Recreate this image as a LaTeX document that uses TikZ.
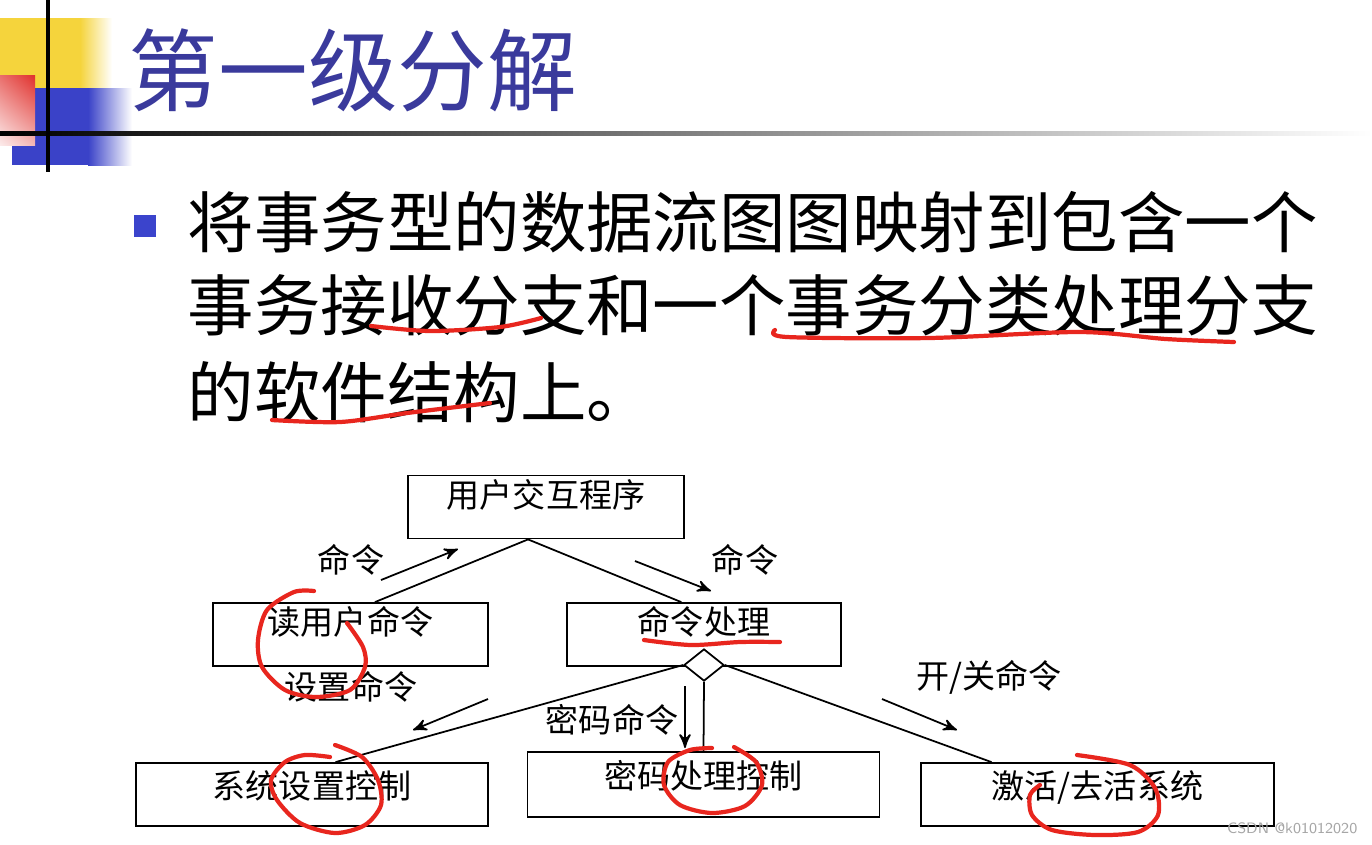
\documentclass[tikz,border=0pt]{standalone}
\usepackage{fontspec}
\newfontfamily\cjk{Noto Sans CJK SC}
\usetikzlibrary{arrows, shapes.geometric, shadings}
\definecolor{titleblue}{HTML}{3A3A9C}
\definecolor{bulletblue}{HTML}{3B44CC}
\definecolor{deckyellow}{HTML}{F5D43C}
\definecolor{deckblue}{HTML}{3A42C8}
\definecolor{deckred}{HTML}{E0302C}
\definecolor{penred}{HTML}{E8261E}

\begin{document}
\begin{tikzpicture}[x = 0.01cm, y = -0.01cm, >=stealth',
    box/.style = {draw, line width = 0.5pt, font = \cjk\fontsize{9.4}{11}\selectfont, text height = 0.22cm, text depth = 0.22cm, minimum height = 0.63cm, inner sep = 0pt},
    lbl/.style = {font = \cjk\fontsize{9.4}{11}\selectfont, inner sep = 0pt},
    flow/.style = {line width = 0.5pt},
    bodytext/.style = {font = \cjk\fontsize{18.9}{22}\selectfont, anchor = west, inner sep = 0pt},
    redmark/.style = {draw = penred, line width = 1.2pt, line cap = round, line join = round}]
      \useasboundingbox[fill = white] (0,0) rectangle (1372,844);

      \fill[deckyellow] (0,18) rectangle (80,110);
      \shade[left color = deckyellow, right color = white] (80,18) rectangle (112,110);
      \fill[deckblue] (12,88) rectangle (88,165);
      \shade[left color = deckblue, right color = white] (88,88) rectangle (132,165);
      \shade[upper right = deckred, upper left = deckred!70, lower left = deckred!10, lower right = deckred!35] (0,75) rectangle (35,145);
      \shade[left color = black, middle color = gray!80, right color = white] (0,131) rectangle (1372,135);
      \fill[black] (46,0) rectangle (50,172);

      \node[font = \cjk\fontsize{25.5}{30}\selectfont, text = titleblue, anchor = west, inner sep = 0pt] (title) at (128,70) {第一级分解};
      \fill[bulletblue] (134,215) rectangle (156,237);
      \node[bodytext] (l1) at (187,222) {将事务型的数据流图图映射到包含一个};
      \node[bodytext] (l2) at (187,305) {事务接收分支和一个事务分类处理分支};
      \node[bodytext] (l3) at (187,392) {的软件结构上。};

      \node[box, minimum width = 2.76cm] (user) at (546,507) {用户交互程序};
      \node[box, minimum width = 2.75cm] (read) at (350.5,634.5) {读用户命令};
      \node[box, minimum width = 2.74cm] (proc) at (704,634.5) {命令处理};
      \node[diamond, draw, fill = white, line width = 0.5pt, minimum width = 0.4cm, minimum height = 0.32cm, inner sep = 0pt] (fork) at (704,665) {};
      \node[box, text depth = 0.15cm, minimum width = 3.52cm] (setc) at (312,794.5) {系统设置控制};
      \node[box, text depth = 0.15cm, minimum width = 3.52cm, minimum height = 0.65cm] (pwd) at (703.5,784.5) {密码处理控制};
      \node[box, text depth = 0.15cm, minimum width = 3.53cm] (act) at (1097.5,794.5) {激活/去活系统};

      \path[flow] (user.241) edge (read.53)
                  (user.241) edge (proc.125)
                  (fork.west) edge (setc.54)
                  (fork.south) edge (pwd.north)
                  (fork.east) edge (act.163);

      \node[lbl] (cmd1) at (351,560) {命令};
      \node[lbl] (cmd2) at (745,560) {命令};
      \node[lbl] (cmd3) at (351,687) {设置命令};
      \node[lbl] (cmd4) at (612,720) {密码命令};
      \node[lbl] (cmd5) at (989,677) {开/关命令};

      \coordinate (a1) at (381,580); \coordinate (b1) at (458,549);
      \coordinate (a2) at (635,561); \coordinate (b2) at (711,591);
      \coordinate (a3) at (488,699); \coordinate (b3) at (413,730);
      \coordinate (a4) at (685,686); \coordinate (b4) at (685,748);
      \coordinate (a5) at (882,699); \coordinate (b5) at (957,730);
      \path[->, flow] (a1) edge (b1) (a2) edge (b2)
                      (a3) edge (b3) (a4) edge (b4)
                      (a5) edge (b5);

      \node[font = \sffamily\fontsize{4.3}{5}\selectfont, text = gray!70, anchor = east, inner sep = 0pt] (mark) at (1358,828) {CSDN @k01012020};

      \draw[redmark] plot[smooth] coordinates {(371,326) (430,331) (500,327) (541,318)};
      \draw[redmark] plot[smooth] coordinates {(775,330) (787,337) (929,338) (1079,332) (1166,339) (1234,342)};
      \draw[redmark] plot[smooth] coordinates {(272,420) (340,422) (407,413) (490,403)};
      \draw[redmark] plot[smooth] coordinates {(314,591) (294,592) (267,610) (258,640) (262,667) (285,690) (316,697) (350,690) (365,667) (363,647) (347,623)};
      \draw[redmark] plot[smooth] coordinates {(644,640) (691,645) (740,642) (780,642)};
      \draw[redmark] plot[smooth] coordinates {(335,745) (362,757) (378,780) (381,805) (365,825) (335,833) (300,823) (277,800) (271,780) (285,762) (305,755) (330,757)};
      \draw[redmark] plot[smooth] coordinates {(734,747) (756,762) (762,785) (745,806) (712,813) (680,805) (664,785) (668,762) (690,750) (712,748)};
      \draw[redmark] plot[smooth] coordinates {(1077,755) (1130,765) (1155,788) (1158,815) (1138,832) (1095,835) (1052,830) (1032,815) (1030,795) (1040,785)};
\end{tikzpicture}
\end{document}
